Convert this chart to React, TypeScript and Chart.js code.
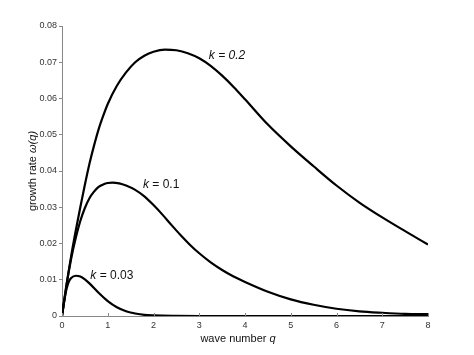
import React, { useEffect, useRef } from "react";
import { Chart, registerables } from "chart.js";

Chart.register(...registerables);

// wave number q and growth rate ω(q) for each k
const qK02 = [0, 0.1, 0.2, 0.3, 0.4, 0.5, 0.6, 0.7, 0.8, 0.9, 1.0, 1.2, 1.4, 1.6, 1.8, 2.0, 2.25, 2.5, 2.75, 3.0, 3.25, 3.5, 3.75, 4.0, 4.5, 5.0, 5.5, 6.0, 6.5, 7.0, 7.5, 8.0];
const wK02 = [0, 0.0085, 0.0165, 0.0235, 0.03, 0.0362, 0.042, 0.047, 0.0515, 0.0552, 0.0585, 0.0635, 0.0672, 0.07, 0.0718, 0.0729, 0.0735, 0.0733, 0.0725, 0.0711, 0.069, 0.0663, 0.0632, 0.0598, 0.0528, 0.0468, 0.0413, 0.036, 0.0313, 0.0272, 0.0234, 0.0197];

const qK01 = [0, 0.1, 0.2, 0.3, 0.4, 0.5, 0.6, 0.7, 0.8, 0.9, 1.0, 1.1, 1.25, 1.4, 1.6, 1.8, 2.0, 2.2, 2.4, 2.6, 2.8, 3.0, 3.25, 3.5, 3.75, 4.0, 4.5, 5.0, 5.5, 6.0, 6.5, 7.0, 7.5, 8.0];
const wK01 = [0, 0.0088, 0.0158, 0.0215, 0.0262, 0.0298, 0.0325, 0.0343, 0.0356, 0.0363, 0.0367, 0.0368, 0.0366, 0.036, 0.0348, 0.033, 0.0306, 0.0279, 0.025, 0.0222, 0.0196, 0.0173, 0.0148, 0.0127, 0.0109, 0.0094, 0.0067, 0.0046, 0.0031, 0.002, 0.0013, 0.0009, 0.0006, 0.0005];

const qK003 = [0, 0.05, 0.1, 0.15, 0.2, 0.3, 0.4, 0.5, 0.6, 0.8, 1.0, 1.2, 1.4, 1.6, 1.8, 2.0, 2.5, 3.0, 8.0];
const wK003 = [0, 0.0042, 0.0075, 0.0095, 0.0105, 0.0111, 0.0109, 0.0101, 0.009, 0.0064, 0.0041, 0.0024, 0.0013, 0.0007, 0.0003, 0.00015, 0.00003, 0, 0];

const xTicks = [0, 1, 2, 3, 4, 5, 6, 7, 8];
const yTicks = [0, 0.01, 0.02, 0.03, 0.04, 0.05, 0.06, 0.07, 0.08];

const labels: { k: string; rest: string; restItalic: boolean; q: number; w: number }[] = [
  { k: "k", rest: " = 0.2", restItalic: true, q: 3.21, w: 0.0719 },
  { k: "k", rest: " = 0.1", restItalic: false, q: 1.77, w: 0.0361 },
  { k: "k", rest: " = 0.03", restItalic: false, q: 0.62, w: 0.0112 },
];

const FONT = "'Liberation Sans', Arial, Helvetica, sans-serif";

const toPts = (qs: number[], ws: number[]) => qs.map((q, i) => ({ x: q, y: ws[i] }));

const decorPlugin = {
  id: "decor",
  afterDraw(chart: any) {
    const ctx = chart.ctx;
    const xs = chart.scales.x;
    const ys = chart.scales.y;
    const area = chart.chartArea;
    ctx.save();
    ctx.strokeStyle = "#888";
    ctx.lineWidth = 1;
    xTicks.forEach((t) => {
      const px = Math.round(xs.getPixelForValue(t)) + 0.5;
      ctx.beginPath();
      ctx.moveTo(px, area.bottom);
      ctx.lineTo(px, area.bottom - 3);
      ctx.stroke();
    });
    ctx.fillStyle = "#111";
    ctx.textBaseline = "middle";
    ctx.textAlign = "left";
    labels.forEach((l) => {
      const px = xs.getPixelForValue(l.q);
      const py = ys.getPixelForValue(l.w);
      ctx.font = `italic 12px ${FONT}`;
      ctx.fillText(l.k, px, py);
      const w1 = ctx.measureText(l.k).width;
      ctx.font = `${l.restItalic ? "italic " : ""}12px ${FONT}`;
      ctx.fillText(l.rest, px + w1, py);
    });
    const xt1 = "wave number ";
    const xt2 = "q";
    ctx.font = `11px ${FONT}`;
    const a1 = ctx.measureText(xt1).width;
    ctx.font = `italic 11px ${FONT}`;
    const a2 = ctx.measureText(xt2).width;
    const sx = (area.left + area.right) / 2 - 7 - (a1 + a2) / 2;
    const ty = 339;
    ctx.font = `11px ${FONT}`;
    ctx.fillText(xt1, sx, ty);
    ctx.font = `italic 11px ${FONT}`;
    ctx.fillText(xt2, sx + a1, ty);
    const yt1 = "growth rate ";
    const yt2 = "ω(q)";
    ctx.font = `11px ${FONT}`;
    const b1 = ctx.measureText(yt1).width;
    ctx.font = `italic 11px ${FONT}`;
    const b2 = ctx.measureText(yt2).width;
    ctx.translate(33, (area.top + area.bottom) / 2);
    ctx.rotate(-Math.PI / 2);
    const start = -(b1 + b2) / 2;
    ctx.font = `11px ${FONT}`;
    ctx.fillText(yt1, start, 0);
    ctx.font = `italic 11px ${FONT}`;
    ctx.fillText(yt2, start + b1, 0);
    ctx.restore();
  },
};

export default function App() {
  const ref = useRef<HTMLCanvasElement | null>(null);

  useEffect(() => {
    if (!ref.current) return;
    const line = (data: { x: number; y: number }[]) => ({
      data,
      borderColor: "#000",
      borderWidth: 2.2,
      pointRadius: 0,
      fill: false,
      cubicInterpolationMode: "monotone" as const,
    });
    const chart = new Chart(ref.current, {
      type: "line",
      data: {
        datasets: [line(toPts(qK02, wK02)), line(toPts(qK01, wK01)), line(toPts(qK003, wK003))],
      },
      options: {
        responsive: false,
        animation: false,
        layout: { padding: { left: 0, top: 26, right: 46, bottom: 0 } },
        plugins: { legend: { display: false }, tooltip: { enabled: false } },
        scales: {
          x: {
            type: "linear",
            min: 0,
            max: 8,
            afterBuildTicks: (s: any) => {
              s.ticks = xTicks.map((v) => ({ value: v }));
            },
            afterFit: (s: any) => {
              s.height = 39;
            },
            grid: { display: true, drawOnChartArea: false, drawTicks: false },
            border: { color: "#888", width: 1 },
            ticks: {
              padding: 4,
              color: "#333",
              font: { family: FONT, size: 9 },
              maxRotation: 0,
              callback: (v: any) => String(v),
            },
          },
          y: {
            type: "linear",
            min: 0,
            max: 0.08,
            afterBuildTicks: (s: any) => {
              s.ticks = yTicks.map((v) => ({ value: v }));
            },
            afterFit: (s: any) => {
              s.width = 62;
            },
            grid: { display: true, drawOnChartArea: false, drawTicks: true, tickLength: 3, color: "#888" },
            border: { color: "#888", width: 1 },
            ticks: {
              padding: 2,
              color: "#333",
              font: { family: FONT, size: 9 },
              callback: (v: any) => (Number(v) === 0 ? "0" : Number(v).toFixed(2)),
            },
          },
        },
      },
      plugins: [decorPlugin],
    });
    return () => chart.destroy();
  }, []);

  return (
    <div style={{ position: "absolute", left: 0, top: 0, width: 474, height: 355, background: "#fff" }}>
      <canvas ref={ref} width={474} height={355} style={{ display: "block" }} />
    </div>
  );
}
